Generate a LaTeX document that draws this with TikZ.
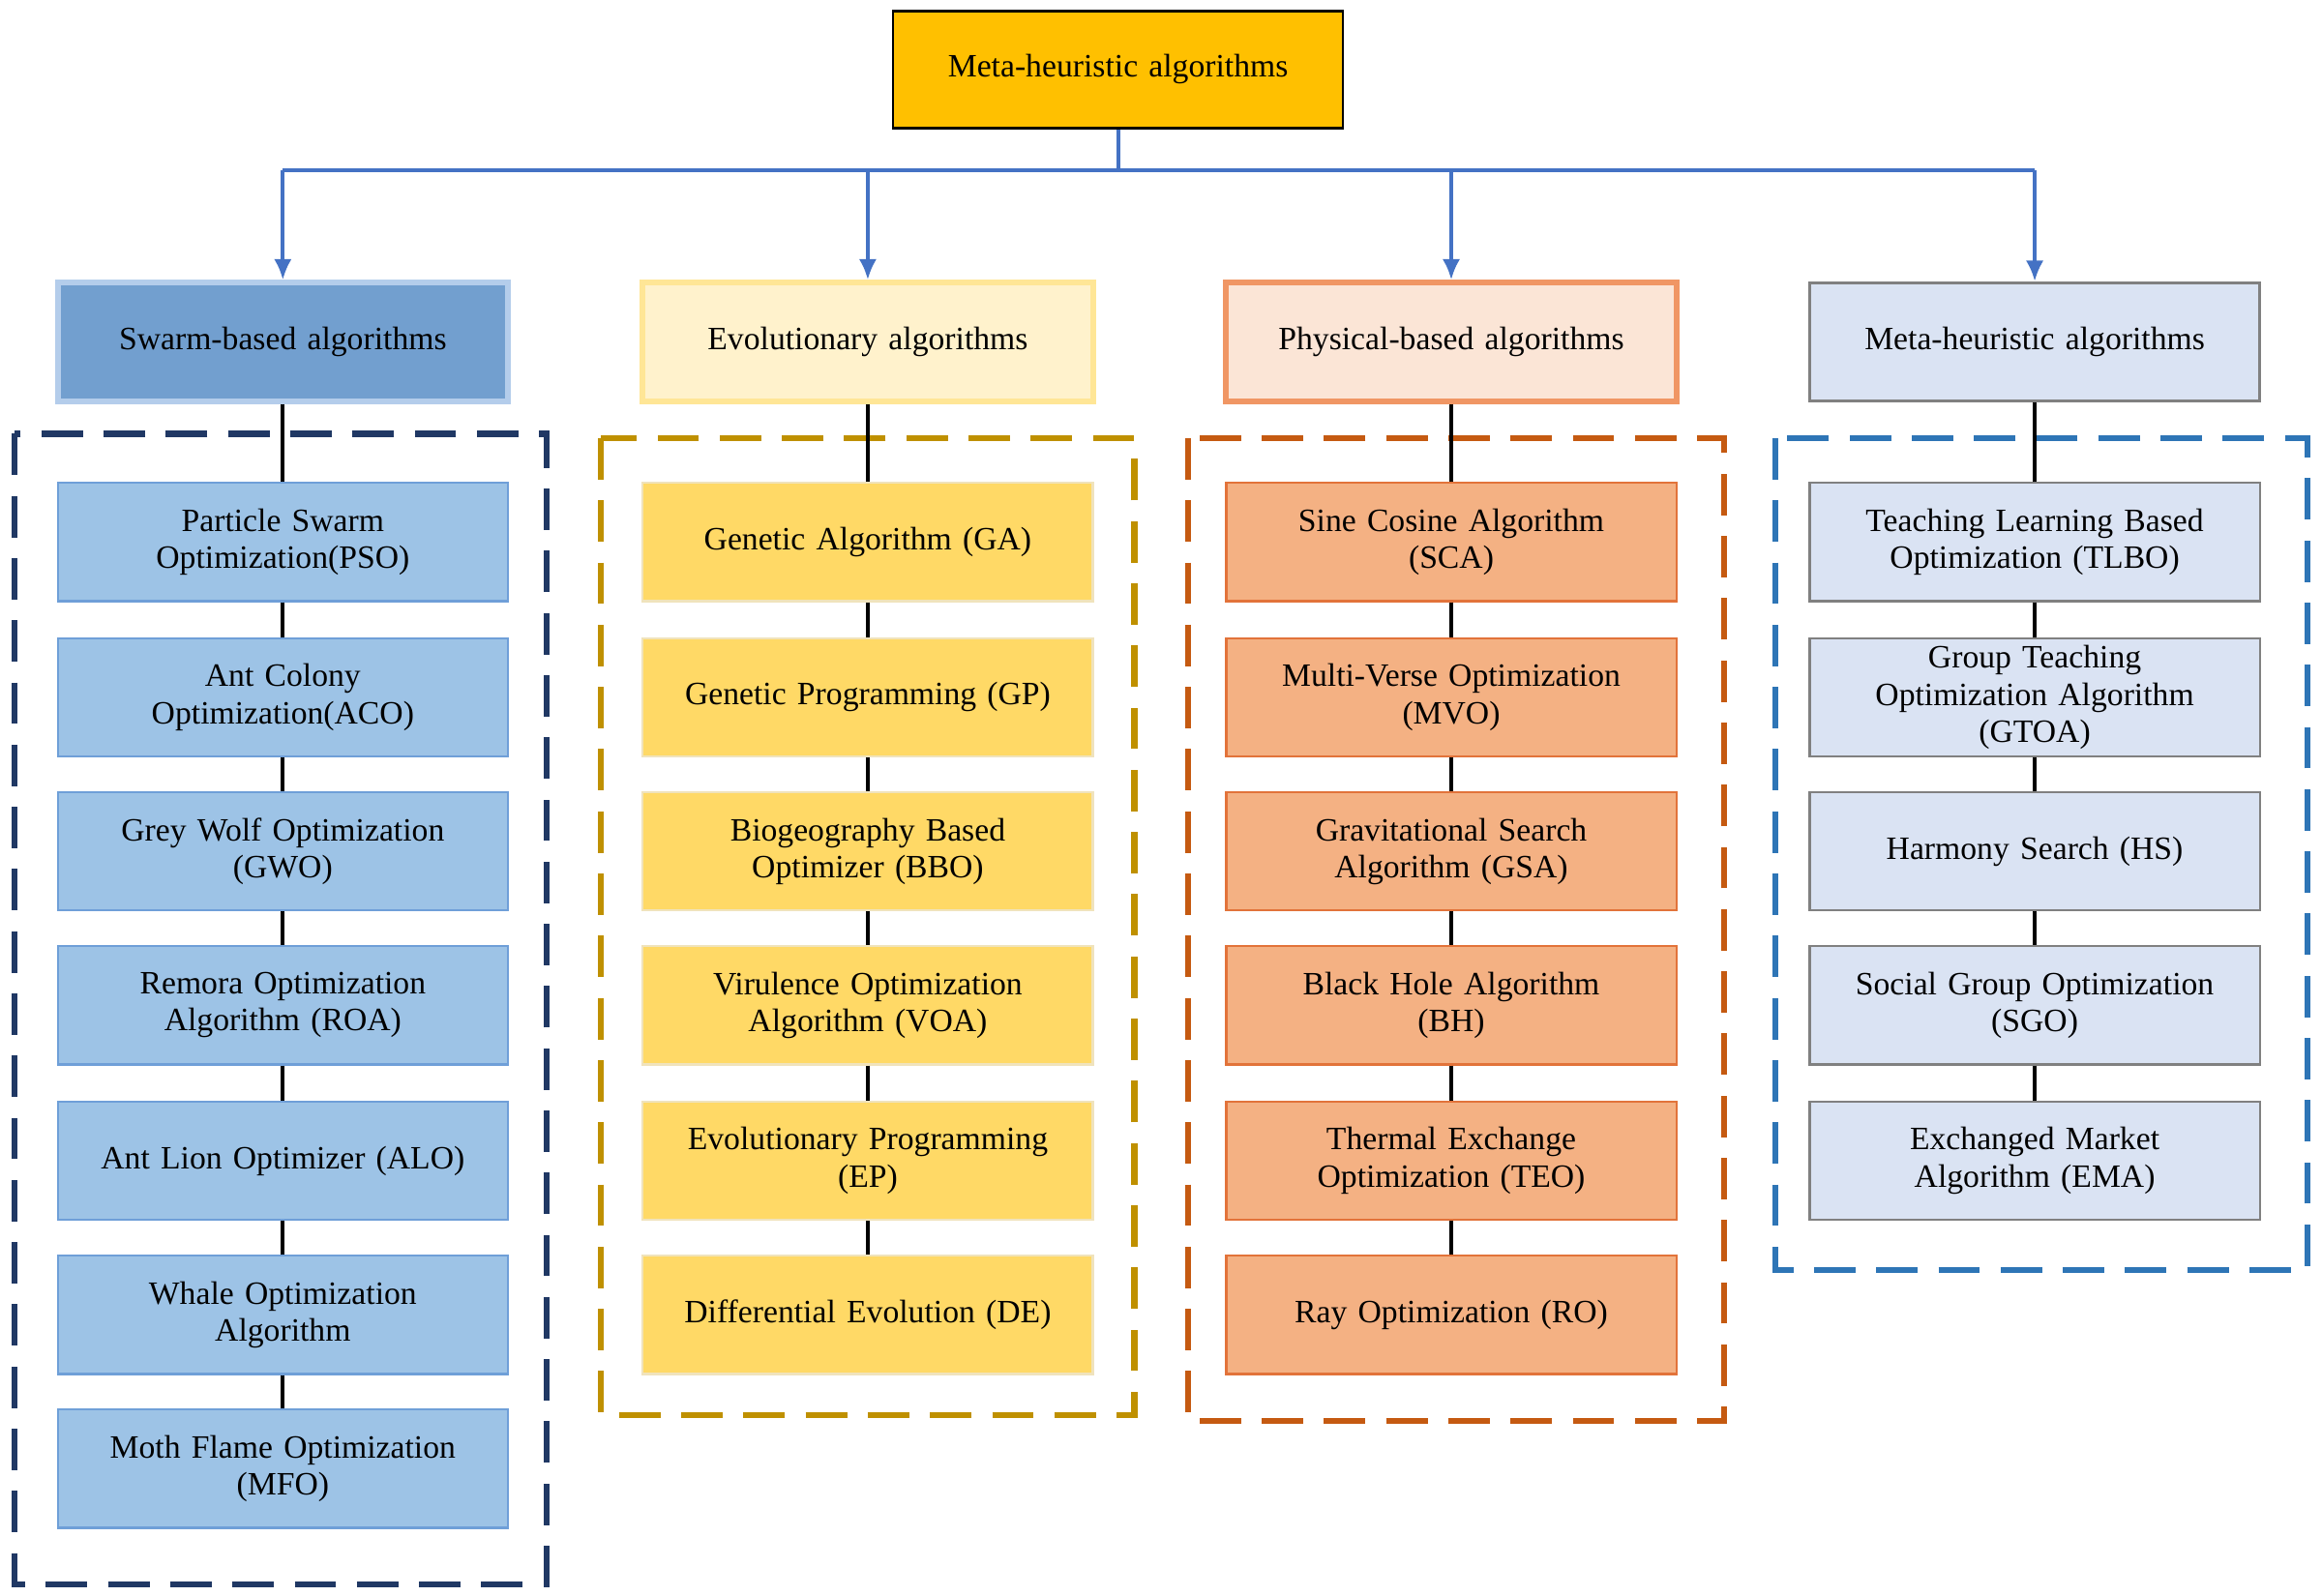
\documentclass[tikz,border=0pt]{standalone}
\usepackage{fontspec}
\setmainfont{Liberation Serif}
\begin{document}
\begin{tikzpicture}[x=1pt,y=-1pt,
 every node/.style={font=\fontsize{22}{25}\selectfont, align=center, text width=290pt, inner sep=0pt},
 box/.style={minimum width=304pt, minimum height=80pt, line width=1.5pt},
 sw/.style={box, fill=swI, draw=swB},
 ev/.style={box, fill=evI, draw=evI!85!black!40!white},
 ph/.style={box, fill=phI, draw=phB},
 mh/.style={box, fill=mhI, draw=gray},
 link/.style={line width=2.5pt},
 arr/.style={line width=2.5pt, draw=arrC, -{Latex[length=14pt,width=12pt]}},
 dbox/.style={line width=4pt, dash pattern=on 28pt off 14pt}]
\usetikzlibrary{arrows.meta}
\definecolor{swI}{HTML}{9DC3E6}\definecolor{swB}{HTML}{6F9FD8}
\definecolor{evI}{HTML}{FFD966}
\definecolor{phI}{HTML}{F4B183}\definecolor{phB}{HTML}{E2733A}
\definecolor{mhI}{HTML}{DAE3F3}
\definecolor{arrC}{HTML}{4472C4}
\useasboundingbox (0,0) rectangle (1568,1078);
\fill[white] (0,0) rectangle (1568,1078);
% dashed frames
\draw[dbox, draw={rgb,255:red,32;green,56;blue,100}] (10,293) rectangle (369,1070);
\draw[dbox, draw={rgb,255:red,191;green,144;blue,0}] (406,296) rectangle (766,956);
\draw[dbox, draw={rgb,255:red,197;green,90;blue,17}] (802,296) rectangle (1164,960);
\draw[dbox, draw={rgb,255:red,46;green,117;blue,182}] (1199,296) rectangle (1558,858);
% top
\node[box, fill={rgb,255:red,255;green,192;blue,0}, draw=black, minimum width=304pt, minimum height=79pt] (top) at (755,47) {Meta-heuristic algorithms};
% categories
\node[box, fill={rgb,255:red,114;green,159;blue,207}, draw={rgb,255:red,180;green,205;blue,235}, line width=4pt] (c1) at (191,231) {Swarm-based algorithms};
\node[box, fill={rgb,255:red,255;green,242;blue,204}, draw={rgb,255:red,255;green,230;blue,150}, line width=4pt] (c2) at (586,231) {Evolutionary algorithms};
\node[box, fill={rgb,255:red,251;green,229;blue,214}, draw={rgb,255:red,240;green,150;blue,100}, line width=4pt] (c3) at (980,231) {Physical-based algorithms};
\node[box, fill=mhI, draw=gray, line width=2pt] (c4) at (1374,231) {Meta-heuristic algorithms};
\coordinate (j) at (755,115);
\draw[line width=2.5pt, draw=arrC] (top.south) -- (j);
\draw[line width=2.5pt, draw=arrC] (191,115) -- (1374,115);
\foreach \c/\x in {c1/191,c2/586,c3/980,c4/1374}{\draw[arr] (\x,115) -- (\c.north);}
% column 1
\foreach \n/\y/\t in {a1/366/{Particle Swarm\\Optimization(PSO)},a2/471/{Ant Colony\\Optimization(ACO)},a3/575/{Grey Wolf Optimization\\(GWO)},a4/679/{Remora Optimization\\Algorithm (ROA)},a5/784/{Ant Lion Optimizer (ALO)},a6/888/{Whale Optimization\\Algorithm},a7/992/{Moth Flame Optimization\\(MFO)}}{\node[sw] (\n) at (191,\y) {\t};}
\foreach \n/\y/\t in {b1/366/{Genetic Algorithm (GA)},b2/471/{Genetic Programming (GP)},b3/575/{Biogeography Based\\Optimizer (BBO)},b4/679/{Virulence Optimization\\Algorithm (VOA)},b5/784/{Evolutionary Programming\\(EP)},b6/888/{Differential Evolution (DE)}}{\node[ev] (\n) at (586,\y) {\t};}
\foreach \n/\y/\t in {p1/366/{Sine Cosine Algorithm\\(SCA)},p2/471/{Multi-Verse Optimization\\(MVO)},p3/575/{Gravitational Search\\Algorithm (GSA)},p4/679/{Black Hole Algorithm\\(BH)},p5/784/{Thermal Exchange\\Optimization (TEO)},p6/888/{Ray Optimization (RO)}}{\node[ph] (\n) at (980,\y) {\t};}
\node[mh] (m1) at (1374,366) {Teaching Learning Based\\Optimization (TLBO)};
\node[mh] (m2) at (1374,471) {Group Teaching\\Optimization Algorithm\\(GTOA)};
\node[mh] (m3) at (1374,575) {Harmony Search (HS)};
\node[mh] (m4) at (1374,679) {Social Group Optimization\\(SGO)};
\node[mh] (m5) at (1374,784) {Exchanged Market\\Algorithm (EMA)};
% links
\draw[link] (c1.south) -- (a1.north) (a1.south) -- (a2.north) (a2.south) -- (a3.north) (a3.south) -- (a4.north) (a4.south) -- (a5.north) (a5.south) -- (a6.north) (a6.south) -- (a7.north);
\draw[link] (c2.south) -- (b1.north) (b1.south) -- (b2.north) (b2.south) -- (b3.north) (b3.south) -- (b4.north) (b4.south) -- (b5.north) (b5.south) -- (b6.north);
\draw[link] (c3.south) -- (p1.north) (p1.south) -- (p2.north) (p2.south) -- (p3.north) (p3.south) -- (p4.north) (p4.south) -- (p5.north) (p5.south) -- (p6.north);
\draw[link] (c4.south) -- (m1.north) (m1.south) -- (m2.north) (m2.south) -- (m3.north) (m3.south) -- (m4.north) (m4.south) -- (m5.north);
\end{tikzpicture}
\end{document}
